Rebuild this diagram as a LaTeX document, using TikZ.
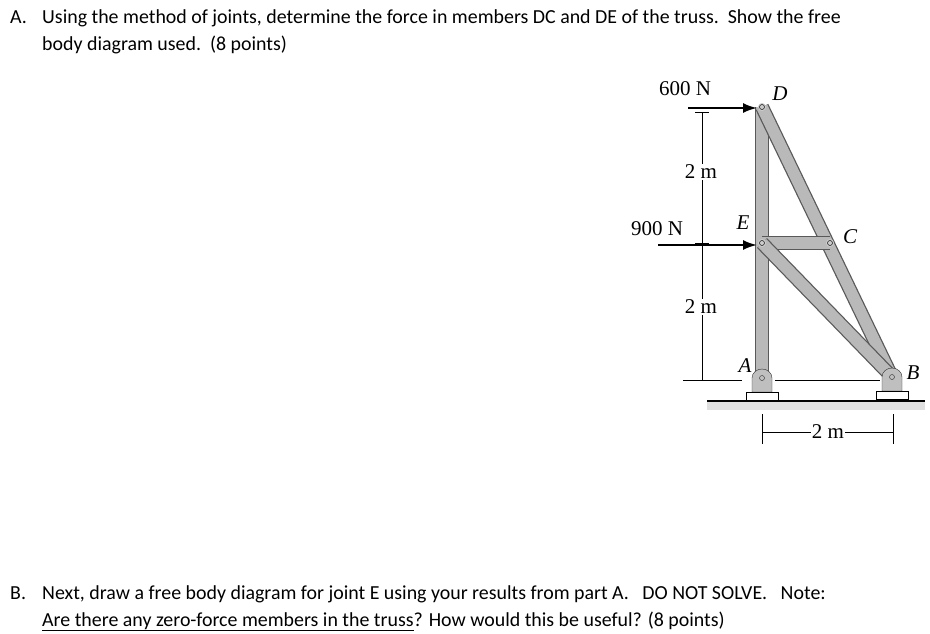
\documentclass[tikz,border=0pt]{standalone}
\usepackage{fontspec}
\setmainfont{Carlito}
\newfontfamily\tms{Liberation Serif}
\usetikzlibrary{arrows.meta,calc}
\begin{document}
\begin{tikzpicture}[x=1pt,y=-1pt,
  txt/.style={anchor=base west,inner sep=0pt,font=\fontsize{19.9}{24}\selectfont},
  lbl/.style={inner sep=1pt,font=\tms\fontsize{21}{22}\selectfont,fill=white},
  jl/.style={inner sep=0pt,font=\tms\itshape\fontsize{21}{22}\selectfont},
  fl/.style={inner sep=0pt,font=\tms\fontsize{21}{22}\selectfont},
  member/.style={line width=14pt,draw=gray!70!black},
  memberin/.style={line width=11.5pt,draw=gray!55},
  dim/.style={line width=0.8pt},
  load/.style={line width=2pt,-{Latex[length=14pt,width=10pt]}}]
\useasboundingbox (0,0) rectangle (930,633);
\node[txt] (a1) at (10,23) {A.};
\node[txt] (a2) at (42,23) {Using the method of joints, determine the force in members DC and DE of the truss.\ \ Show the free};
\node[txt] (a3) at (42,50) {body diagram used.\ \ (8 points)};
\node[txt] (b1) at (10,599) {B.};
\node[txt] (b2) at (42,599) {Next, draw a free body diagram for joint E using your results from part A.\ \ \ DO NOT SOLVE.\ \ \ Note:};
\node[txt] (b3) at (42,626) {\underline{Are there any zero-force members in the truss}? How would this be useful? (8 points)};
% joints
\coordinate (D) at (762,107);
\coordinate (E) at (762,243);
\coordinate (A) at (762,378);
\coordinate (B) at (892,377);
\coordinate (C) at (830,243);
% ground
\fill[gray!25] (707,401) rectangle (925,410);
\draw[line width=1.2pt] (707,401) -- (925,401);
\draw[dim] (683,380) -- (742,380) (775,380) -- (880,380);
% members
\foreach \p/\q in {D/A,D/B,E/C,E/B}{\draw[member] (\p)--(\q); \draw[memberin] (\p)--(\q);}
\foreach \p in {D,E,C}{\fill[gray!40] (\p) circle (4pt); \draw[gray!30!black,line width=0.6pt] (\p) circle (2.5pt);}
% supports
\foreach \p in {A,B}{
  \fill[gray!50,draw=gray!40!black] ($(\p)+(-10,14)$) -- ($(\p)+(-10,0)$) arc[start angle=180,end angle=0,x radius=10pt,y radius=9pt] -- ($(\p)+(10,14)$) -- cycle;
  \draw[gray!30!black] (\p) circle (2.5pt);
  \draw[line width=0.8pt,fill=white] ($(\p)+(-16,14)$) rectangle ($(\p)+(16,22)$);}
% loads
\draw[load] (688,108) -- (757,108);
\draw[load] (658,245) -- (757,245);
% dimensions
\draw[dim] (702,112) -- (702,380);
\draw[dim] (695,112) -- (709,112);
\draw[dim] (695,243) -- (709,243);
\node[lbl] (d1) at (701,172) {2 m};
\node[lbl] (d2) at (701,307) {2 m};
\draw[dim] (762,432) -- (893,432);
\draw[dim] (762,414) -- (762,444) (893,414) -- (893,444);
\node[lbl] (d3) at (828,432) {2 m};
\node[fl] (f1) at (685,89) {600 N};
\node[fl] (f2) at (657,229) {900 N};
\node[jl] (lD) at (780,94) {D};
\node[jl] (lE) at (743,223) {E};
\node[jl] (lC) at (850,237) {C};
\node[jl] (lA) at (745,366) {A};
\node[jl] (lB) at (913,373) {B};
\end{tikzpicture}
\end{document}
